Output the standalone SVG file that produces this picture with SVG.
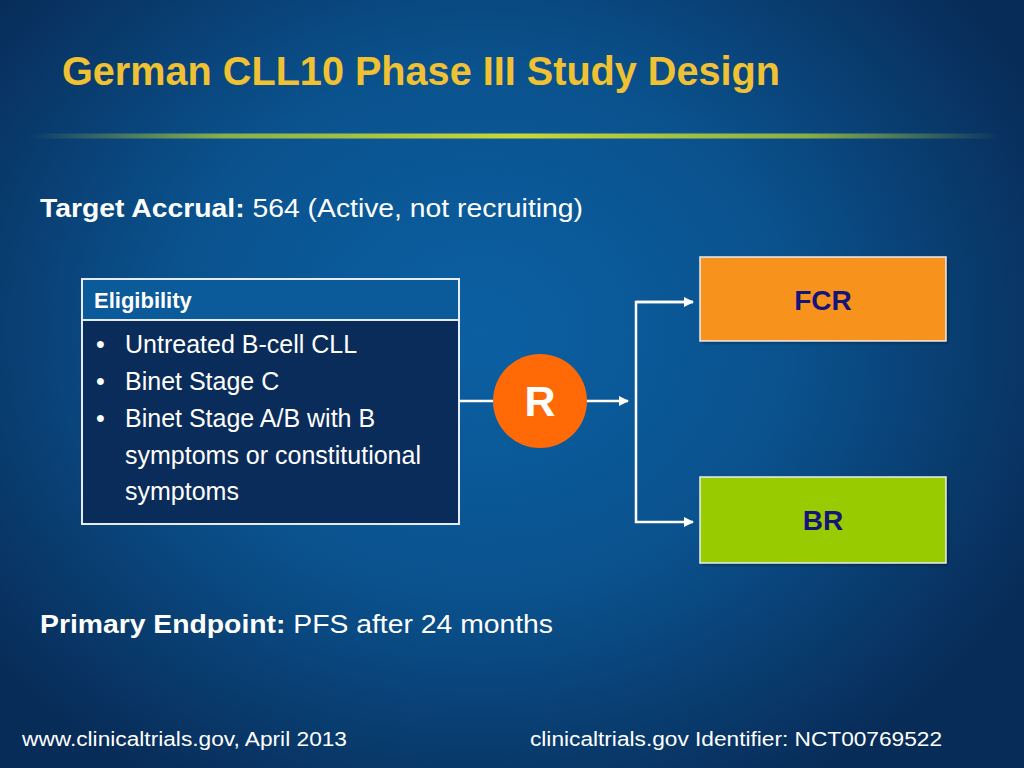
<svg xmlns="http://www.w3.org/2000/svg" width="1024" height="768" viewBox="0 0 1024 768">
<defs>
<radialGradient id="bg" cx="480" cy="330" r="620" gradientUnits="userSpaceOnUse" gradientTransform="translate(480 330) scale(1 0.85) translate(-480 -330)">
<stop offset="0" stop-color="#0b60a2"/>
<stop offset="0.5" stop-color="#0a528e"/>
<stop offset="1" stop-color="#082c58"/>
</radialGradient>
<linearGradient id="sep" x1="0" y1="0" x2="1" y2="0">
<stop offset="0" stop-color="#a8c83a" stop-opacity="0"/>
<stop offset="0.2" stop-color="#a8c83a" stop-opacity="0.8"/>
<stop offset="0.5" stop-color="#c8d83a" stop-opacity="1"/>
<stop offset="0.8" stop-color="#a8c83a" stop-opacity="0.8"/>
<stop offset="1" stop-color="#a8c83a" stop-opacity="0"/>
</linearGradient>
<marker id="arr" viewBox="0 0 10 10" refX="9" refY="5" markerWidth="4" markerHeight="4" orient="auto" markerUnits="strokeWidth">
<path d="M0,0 L10,5 L0,10 z" fill="#ffffff"/>
</marker>
<filter id="sh" x="-5%" y="-5%" width="115%" height="120%">
<feDropShadow dx="2" dy="2" stdDeviation="1.5" flood-color="#000" flood-opacity="0.4"/>
</filter>
</defs>
<style>
text{font-family:"Liberation Sans",Arial,sans-serif;}
.w{fill:#ffffff;}
.b{font-weight:bold;}
.conn{stroke:#ffffff;stroke-width:2.5;fill:none;}
.arm{fill:none;stroke:#e8eef4;stroke-width:1.5;}
.lab{fill:#14147a;font-weight:bold;font-size:28px;text-anchor:middle;}
</style>
<rect x="0" y="0" width="1024" height="768" fill="url(#bg)"/>
<text x="62" y="85" font-size="40" font-weight="bold" fill="#f0c233" textLength="718" lengthAdjust="spacingAndGlyphs">German CLL10 Phase III Study Design</text>
<rect x="30" y="133.5" width="970" height="5" fill="url(#sep)"/>
<text x="40" y="217" font-size="25" class="w" textLength="543" lengthAdjust="spacingAndGlyphs"><tspan class="b">Target Accrual:</tspan> 564 (Active, not recruiting)</text>

<g id="eligibility">
<rect x="82" y="279" width="377" height="41" fill="#0b5a9a"/>
<rect x="82" y="320" width="377" height="204" fill="#0a2c5a"/>
<rect x="82" y="279" width="377" height="245" fill="none" stroke="#e6ecf2" stroke-width="2"/>
<line x1="82" y1="320" x2="459" y2="320" stroke="#e6ecf2" stroke-width="2"/>
<text x="94" y="308" font-size="22" class="w b">Eligibility</text>
<g font-size="25" class="w">
<text x="96" y="353">•</text><text x="125" y="353">Untreated B-cell CLL</text>
<text x="96" y="390">•</text><text x="125" y="390">Binet Stage C</text>
<text x="96" y="427">•</text><text x="125" y="427">Binet Stage A/B with B</text>
<text x="125" y="464">symptoms or constitutional</text>
<text x="125" y="500">symptoms</text>
</g>
</g>

<g id="connectors">
<line class="conn" x1="459" y1="401" x2="495" y2="401"/>
<line class="conn" x1="586" y1="401" x2="628" y2="401" marker-end="url(#arr)"/>
<polyline class="conn" points="693,302 636,302 636,522 693,522" marker-end="url(#arr)"/>
<line class="conn" x1="636" y1="302" x2="693" y2="302" marker-end="url(#arr)"/>
</g>

<g id="randomize">
<circle cx="540" cy="401" r="47" fill="#ff6a06"/>
<text x="540" y="416" font-size="43" class="w b" text-anchor="middle">R</text>
</g>

<g id="fcr">
<rect x="700" y="257" width="246" height="84" fill="#f7931e" filter="url(#sh)"/>
<rect x="700" y="257" width="246" height="84" class="arm"/>
<text x="823" y="310" class="lab">FCR</text>
</g>
<g id="br">
<rect x="700" y="477" width="246" height="86" fill="#99cc00" filter="url(#sh)"/>
<rect x="700" y="477" width="246" height="86" class="arm"/>
<text x="823" y="530" class="lab">BR</text>
</g>

<text x="40" y="633" font-size="25" class="w" textLength="513" lengthAdjust="spacingAndGlyphs"><tspan class="b">Primary Endpoint:</tspan> PFS after 24 months</text>
<text x="22" y="746" font-size="20" class="w" textLength="325" lengthAdjust="spacingAndGlyphs">www.clinicaltrials.gov, April 2013</text>
<text x="530" y="746" font-size="20" class="w" textLength="412" lengthAdjust="spacingAndGlyphs">clinicaltrials.gov Identifier: NCT00769522</text>
</svg>
